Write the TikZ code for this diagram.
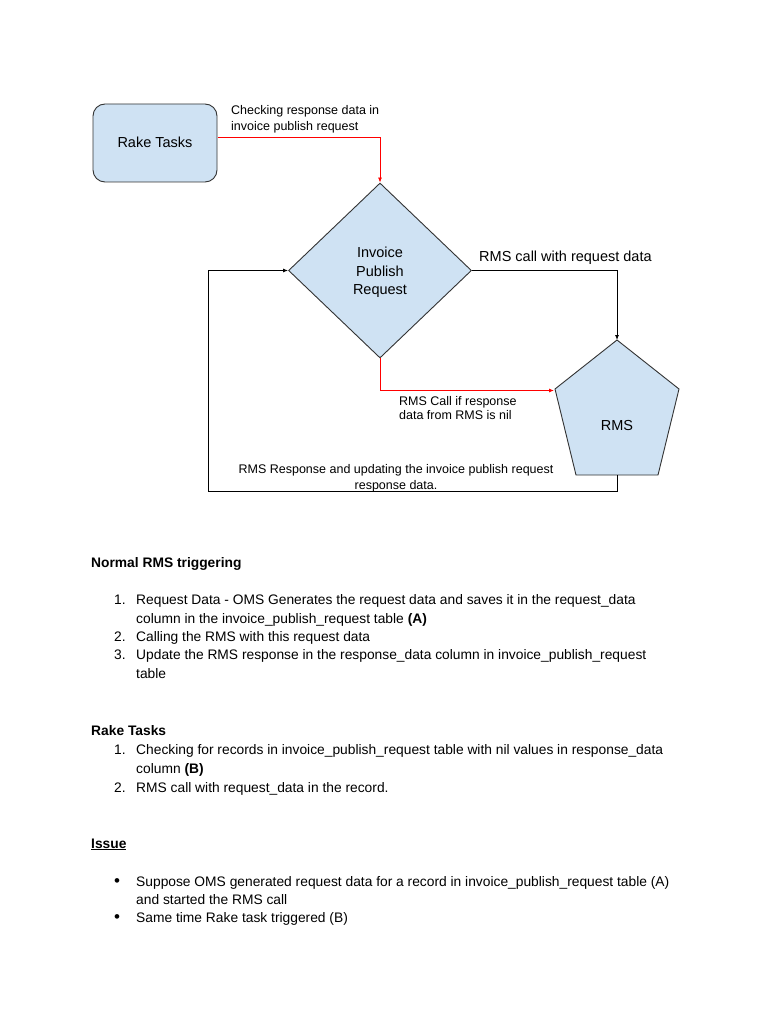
\documentclass[tikz,border=0pt]{standalone}
\usepackage{fontspec}
\setmainfont{Liberation Sans}
\usetikzlibrary{arrows.meta,shapes.geometric}
\definecolor{boxblue}{HTML}{CFE2F3}
\definecolor{edgegray}{HTML}{333333}
\definecolor{linered}{HTML}{FF0000}
\begin{document}
\begin{tikzpicture}[x=1pt,y=-1pt,
  shapefill/.style={fill=boxblue, draw=edgegray, line width=0.9pt},
  blkarrow/.style={draw=black, line width=0.8pt, -{Latex[length=5pt,width=4pt]}},
  redarrow/.style={draw=linered, line width=0.8pt, -{Latex[length=5pt,width=4pt]}},
  lbl/.style={font=\fontsize{12.5}{16}\selectfont, anchor=base west, inner sep=0},
  lblc/.style={font=\fontsize{12.5}{16}\selectfont, anchor=base, inner sep=0},
  big/.style={font=\fontsize{14.5}{18}\selectfont, inner sep=0},
  body/.style={font=\fontsize{13.8}{19}\selectfont, anchor=base west, inner sep=0},
  bul/.style={font=\fontsize{17}{19}\selectfont, anchor=base, inner sep=0},
  head/.style={font=\fontsize{13.8}{19}\selectfont\bfseries, anchor=base west, inner sep=0},
]
\useasboundingbox[fill=white] (0,0) rectangle (768,1024);

% shapes
\node[shapefill, rounded corners=12pt, minimum width=124pt, minimum height=78pt, inner sep=0] (rake) at (155,143) {};
\node[big, anchor=base] (raket) at (155,148) {Rake Tasks};

\node[shapefill, diamond, minimum width=183pt, minimum height=175pt, inner sep=0] (ipr) at (380,270.5) {};
\node[big, anchor=base] (ipr1) at (380,258) {Invoice};
\node[big, anchor=base] (ipr2) at (380,276) {Publish};
\node[big, anchor=base] (ipr3) at (380,294) {Request};

\coordinate (p1) at (617,340);
\coordinate (p2) at (679,389);
\coordinate (p3) at (658,475);
\coordinate (p4) at (576,475);
\coordinate (p5) at (555,389);
\draw[shapefill] (p1) -- (p2) -- (p3) -- (p4) -- (p5) -- cycle;
\node[big, anchor=base] (rms) at (617,430) {RMS};

% connectors
\coordinate (rakeout) at (217.5,137);
\draw[redarrow] (rakeout) -| (ipr.north);
\draw[blkarrow] (ipr.east) -| (p1);
\coordinate (redin) at (554,390.5);
\draw[redarrow] (ipr.south) |- (redin);
\coordinate (pb) at (617,475);
\coordinate (loopc) at (208,491);
\draw[blkarrow] (pb) |- (loopc) |- (ipr.west);

% connector labels
\node[lbl] (l1a) at (231,115) {Checking response data in};
\node[lbl] (l1b) at (231,131) {invoice publish request};
\node[big, anchor=base west] (l2) at (479,261) {RMS call with request data};
\node[lbl] (l3a) at (399,405) {RMS Call if response};
\node[lbl] (l3b) at (399,419) {data from RMS is nil};
\node[lblc] (l4a) at (396,473) {RMS Response and updating the invoice publish request};
\node[lblc] (l4b) at (396,489) {response data.};

% text below
\node[head] (h1) at (91,567) {Normal RMS triggering};
\node[body] (n1) at (114,604) {1.};
\node[body] (t1a) at (136,604) {Request Data - OMS Generates the request data and saves it in the request\_data};
\node[body] (t1b) at (136,623) {column in the invoice\_publish\_request table \textbf{(A)}};
\node[body] (n2) at (114,641) {2.};
\node[body] (t2) at (136,641) {Calling the RMS with this request data};
\node[body] (n3) at (114,659) {3.};
\node[body] (t3a) at (136,659) {Update the RMS response in the response\_data column in invoice\_publish\_request};
\node[body] (t3b) at (136,678) {table};

\node[head] (h2) at (91,735) {Rake Tasks};
\node[body] (m1) at (114,754) {1.};
\node[body] (r1a) at (136,754) {Checking for records in invoice\_publish\_request table with nil values in response\_data};
\node[body] (r1b) at (136,773) {column \textbf{(B)}};
\node[body] (m2) at (114,792) {2.};
\node[body] (r2) at (136,792) {RMS call with request\_data in the record.};

\node[head] (h3) at (91,848) {\underline{Issue}};
\node[bul] (b1) at (117,886.5) {\textbullet};
\node[body] (i1a) at (136,886) {Suppose OMS generated request data for a record in invoice\_publish\_request table (A)};
\node[body] (i1b) at (136,904) {and started the RMS call};
\node[bul] (b2) at (117,922.5) {\textbullet};
\node[body] (i2) at (136,922) {Same time Rake task triggered (B)};
\end{tikzpicture}
\end{document}
